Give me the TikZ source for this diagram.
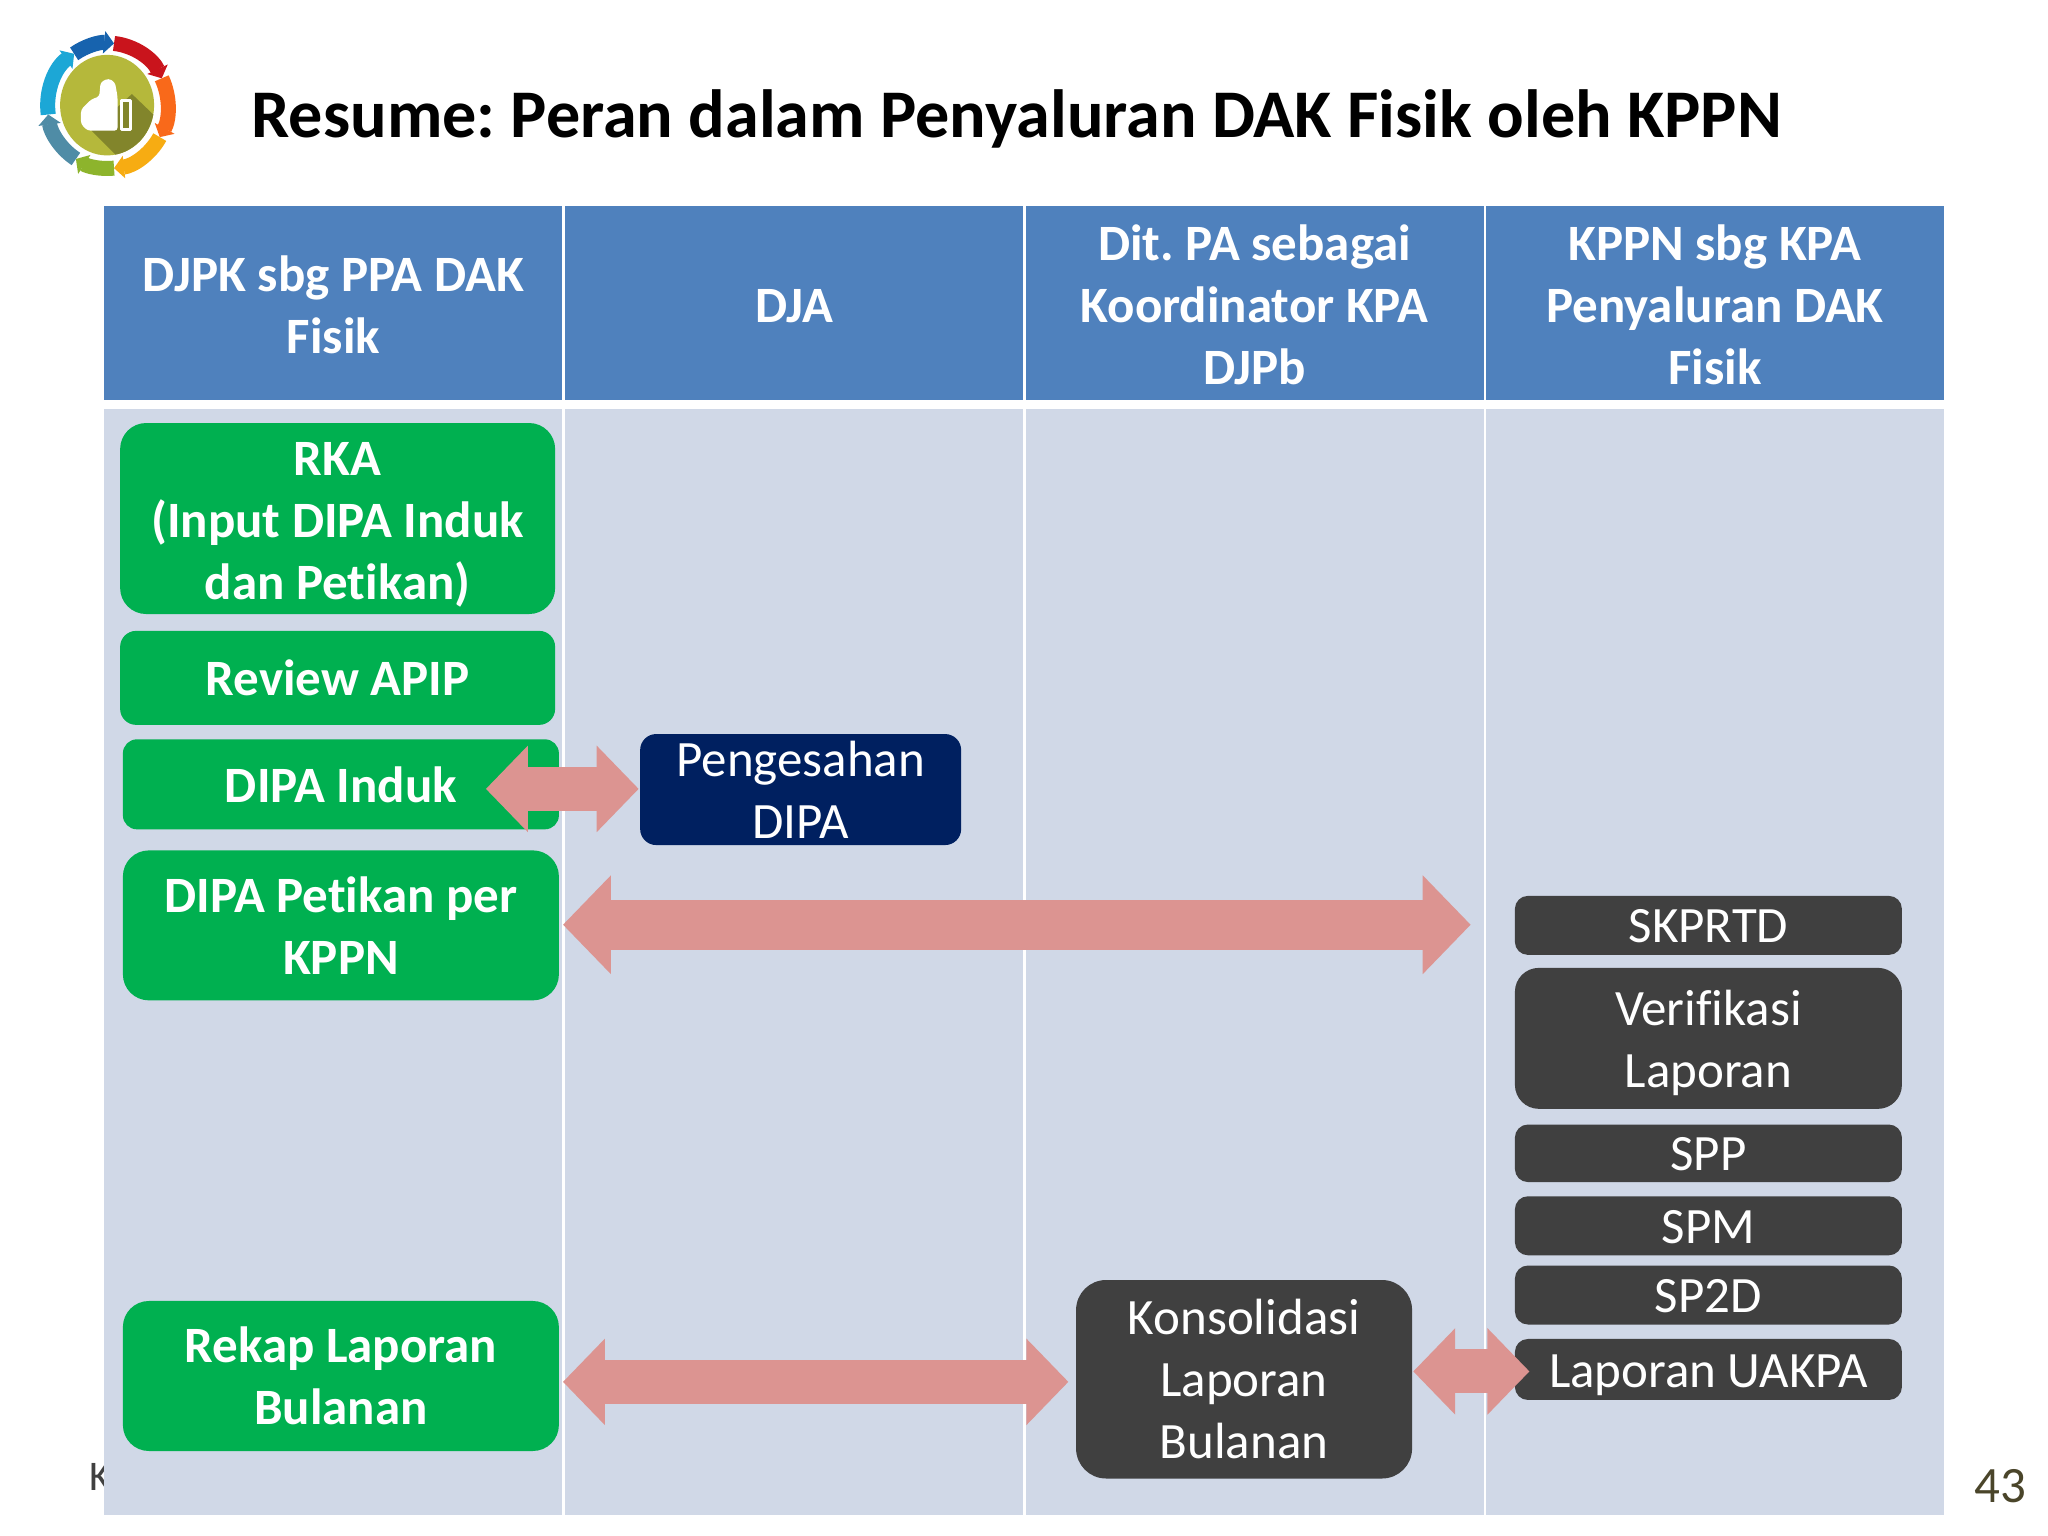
\documentclass[tikz,border=0pt]{standalone}
\usepackage{fontspec}
\setmainfont{Carlito}[Ligatures=NoCommon]
\frenchspacing
\usetikzlibrary{arrows.meta}
\definecolor{headblue}{HTML}{4F81BD}
\definecolor{bodyblue}{HTML}{D0D8E7}
\definecolor{boxgreen}{HTML}{00B050}
\definecolor{boxnavy}{HTML}{002060}
\definecolor{boxdark}{HTML}{404040}
\definecolor{arrowpink}{HTML}{DC9491}
\definecolor{numolive}{HTML}{4A452A}
\definecolor{logoolive}{HTML}{B5B83B}
\definecolor{logored}{HTML}{C9141C}
\definecolor{logoorange}{HTML}{F9691A}
\definecolor{logoamber}{HTML}{F7AC12}
\definecolor{logogreen}{HTML}{8DB42C}
\definecolor{logosteel}{HTML}{4F8CA6}
\definecolor{logocyan}{HTML}{1CA7D6}
\definecolor{logoblue}{HTML}{1763AE}
\begin{document}
\begin{tikzpicture}[x=0.01306cm,y=-0.01306cm,line join=round]

	\tikzset{cell text/.style={font=\fontsize{14.5}{17.64}\selectfont,text=white,align=center,inner sep=0pt,execute at begin node={\rule{0pt}{0.355cm}}}}
	\tikzset{head cell/.style={cell text,font=\fontsize{14.5}{17.64}\selectfont\bfseries,fill=headblue,minimum width=4.58cm,minimum height=1.94cm}}
	\tikzset{body cell/.style={fill=bodyblue,inner sep=0pt,minimum width=4.58cm,minimum height=11.06cm}}
	\tikzset{green box/.style={cell text,font=\fontsize{14.5}{17.64}\selectfont\bfseries,fill=boxgreen,rounded corners=0.26cm}}
	\tikzset{dark box/.style={cell text,fill=boxdark,rounded corners=0.13cm,minimum width=3.87cm}}
	\tikzset{flow/.style={arrowpink,line width=0.44cm,{Triangle[length=0.42cm,width=0.84cm]}-{Triangle[length=0.42cm,width=0.84cm]}}}

	\useasboundingbox (0,0) rectangle (1568,1176);
	\fill[white] (0,0) rectangle (1568,1176);

	\node[font=\fontsize{12}{14}\selectfont,text=boxdark,anchor=west,inner sep=0pt] (footer) at (68,1131) {K};

	\foreach \colname/\colx/\coltext in {djpk/255.3/{DJPK sbg PPA DAK\\Fisik},dja/608/{DJA},ditpa/960.5/{Dit. PA sebagai\\Koordinator KPA\\DJPb},kppn/1313/{KPPN sbg KPA\\Penyaluran DAK\\Fisik}}
	{
		\node[head cell] (head-\colname) at (\colx,232) {\rule{0pt}{0.39cm}\coltext};
		\node[body cell] (body-\colname) at (\colx,736.5) {};
	}

	\foreach \a/\b/\col in {84/26/logored,26/-30/logoorange,-30/-84/logoamber,-84/-122/logogreen,-122/-172/logosteel,-172/-236/logocyan,-236/-276/logoblue}
	\draw[\col,line width=0.15cm,-{Triangle[length=0.10cm,width=0.22cm]}] (82.5,81) ++(\a:46 and -48) arc[start angle=\a,end angle=\b,x radius=46,y radius=-48];
	\fill[logoolive] (82,80.5) ellipse (36 and 38.5);
	\begin{scope}
	\clip (82,80.5) ellipse (36 and 38.5);
	\fill[logoolive!72!black] (101,72) -- (125,95) -- (95,125) -- (70,100) -- cycle;
	\end{scope}
	\fill[white,rounded corners=0.03cm] (62,84) -- (70,76) -- (76,74) -- (77,63) -- (83,60) -- (88,63) -- (90,74) -- (90,100) -- (67,100) -- (62,95) -- cycle;
	\draw[white,line width=0.03cm] (93,77) rectangle (100,99);

	\node[font=\fontsize{19.4}{23}\selectfont\bfseries,anchor=base west,inner sep=0pt] (title) at (192,105) {Resume: Peran dalam Penyaluran DAK Fisik oleh KPPN};

	\node[green box,minimum width=4.35cm,minimum height=1.91cm] (rka) at (258.5,397) {\rule{0pt}{0.45cm}RKA\\(Input DIPA Induk\\dan Petikan)};
	\node[green box,minimum width=4.35cm,minimum height=0.94cm,rounded corners=0.16cm] (review) at (258.5,519) {Review APIP};
	\node[green box,minimum width=4.36cm,minimum height=0.90cm,rounded corners=0.14cm] (induk) at (261,600.5) {DIPA Induk};
	\node[green box,minimum width=4.36cm,minimum height=1.50cm] (petikan) at (261,708.5) {DIPA Petikan per\\KPPN};
	\node[green box,minimum width=4.36cm,minimum height=1.50cm] (rekap) at (261,1053.5) {Rekap Laporan\\Bulanan};

	\node[cell text,fill=boxnavy,rounded corners=0.16cm,minimum width=3.21cm,minimum height=1.11cm] (pengesahan) at (613,604.5) {Pengesahan\\DIPA};

	\node[dark box,minimum height=0.59cm] (skprtd) at (1308,708.5) {SKPRTD};
	\node[dark box,minimum height=1.41cm,rounded corners=0.24cm] (verifikasi) at (1308,795) {\rule{0pt}{0.45cm}Verifikasi\\Laporan};
	\node[dark box,minimum height=0.575cm] (spp) at (1308,883) {SPP};
	\node[dark box,minimum height=0.59cm] (spm) at (1308,938.5) {SPM};
	\node[dark box,minimum height=0.59cm] (sptwod) at (1308,991.5) {SP2D};
	\node[dark box,minimum height=0.61cm,text depth=0pt] (uakpa) at (1308,1048.5) {Laporan UAKPA};
	\node[cell text,fill=boxdark,rounded corners=0.30cm,minimum width=3.36cm,minimum height=1.985cm] (konsolidasi) at (952.5,1056) {Konsolidasi\\Laporan\\Bulanan};

	\coordinate (induk-tip) at (372,604);
	\coordinate (pengesahan-tip) at (489,604);
	\coordinate (petikan-tip) at (431,708);
	\coordinate (skprtd-tip) at (1126,708);
	\coordinate (rekap-tip) at (431,1058);
	\coordinate (konsolidasi-tip) at (818,1058);
	\coordinate (konsolidasi-out) at (1082,1050);
	\coordinate (uakpa-tip) at (1171,1050);

	\draw[flow] (induk-tip)--(pengesahan-tip);
	\draw[flow,line width=0.50cm,{Triangle[length=0.48cm,width=0.96cm]}-{Triangle[length=0.48cm,width=0.96cm]}] (petikan-tip)--(skprtd-tip);
	\draw[flow] (rekap-tip)--(konsolidasi-tip);
	\draw[flow] (konsolidasi-out)--(uakpa-tip);

	\node[font=\fontsize{14.5}{18}\selectfont,text=numolive,inner sep=0pt] (pagenum) at (1531.5,1138) {43};

\end{tikzpicture}
\end{document}
